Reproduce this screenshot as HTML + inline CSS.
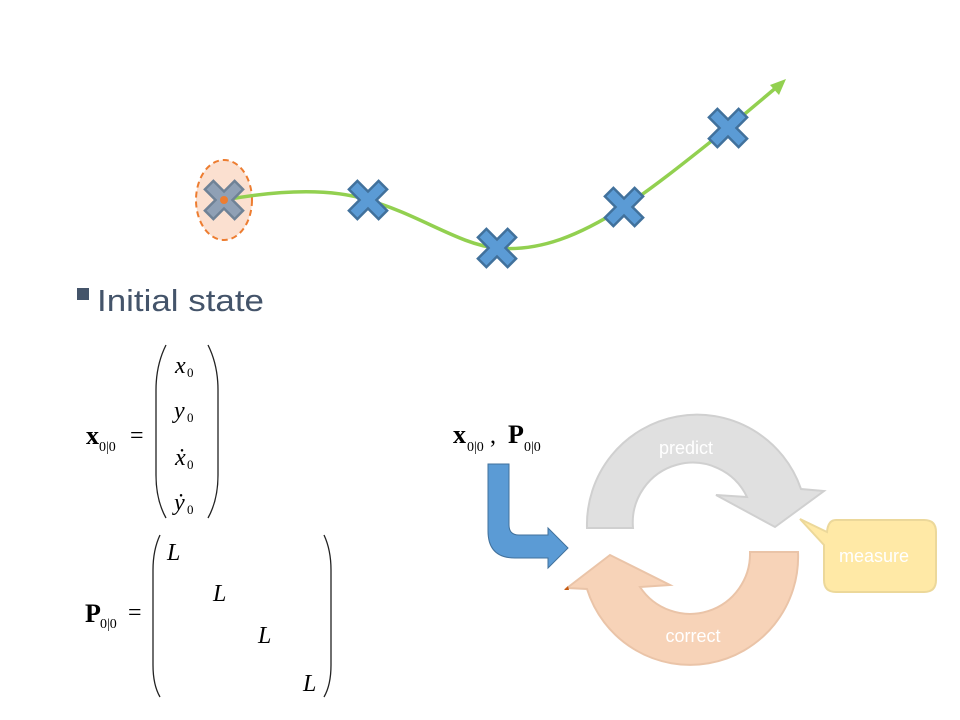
<!DOCTYPE html>
<html><head><meta charset="utf-8"><style>html,body{margin:0;padding:0;background:#fff}svg{display:block}</style></head>
<body>
<svg width="960" height="720" viewBox="0 0 960 720" xmlns="http://www.w3.org/2000/svg">
<defs>
<g id="cr"><path transform="rotate(45)" d="M-6,-21 L6,-21 L6,-6 L21,-6 L21,6 L6,6 L6,21 L-6,21 L-6,6 L-21,6 L-21,-6 L-6,-6 Z" stroke-width="2.5" stroke-linejoin="miter"/></g>
</defs>
<ellipse cx="224" cy="200" rx="28" ry="40" fill="#fbe0d0" stroke="#ed7d31" stroke-width="2" stroke-dasharray="6,4"/>
<path d="M224,200 C280,190 330,188 368,200 C420,215 460,245 497,248 C540,252 580,235 624,207 C660,183 700,150 728,128 L778,86" fill="none" stroke="#92d050" stroke-width="3.5"/>
<polygon points="786,79 770,85 779,95" fill="#92d050"/>
<use href="#cr" x="224" y="200" fill="#8fa0b5" stroke="#6f8296"/>
<circle cx="224" cy="200" r="4" fill="#ed7d31"/>
<use href="#cr" x="368" y="200" fill="#5b9bd5" stroke="#41719c"/>
<use href="#cr" x="497" y="248" fill="#5b9bd5" stroke="#41719c"/>
<use href="#cr" x="624" y="207" fill="#5b9bd5" stroke="#41719c"/>
<use href="#cr" x="728" y="128" fill="#5b9bd5" stroke="#41719c"/>
<rect x="77" y="288" width="12" height="12" fill="#44546a"/>
<text x="97" y="311" font-family="Liberation Sans, sans-serif" font-size="31" fill="#44546a" textLength="167" lengthAdjust="spacingAndGlyphs">Initial state</text>
<g font-family="Liberation Serif, serif" fill="#000">
<text x="86" y="444" font-size="26" font-weight="bold">x</text>
<text x="99" y="451" font-size="14">0|0</text>
<text x="130" y="443" font-size="24">=</text>
<path d="M166,345 Q156,365 156,390 L156,475 Q156,500 166,518" fill="none" stroke="#222" stroke-width="1.3"/>
<path d="M208,345 Q218,365 218,390 L218,475 Q218,500 208,518" fill="none" stroke="#222" stroke-width="1.3"/>
<text x="175" y="373" font-size="24" font-style="italic">x</text><text x="187" y="377" font-size="13">0</text>
<text x="174" y="418" font-size="24" font-style="italic">y</text><text x="187" y="422" font-size="13">0</text>
<text x="175" y="465" font-size="24" font-style="italic">ẋ</text><text x="187" y="469" font-size="13">0</text>
<text x="174" y="510" font-size="24" font-style="italic">ẏ</text><text x="187" y="514" font-size="13">0</text>
<text x="85" y="622" font-size="26" font-weight="bold">P</text>
<text x="100" y="628" font-size="14">0|0</text>
<text x="128" y="620" font-size="24">=</text>
<path d="M160,535 Q153,550 153,570 L153,665 Q153,685 160,697" fill="none" stroke="#222" stroke-width="1.3"/>
<path d="M324,535 Q331,550 331,570 L331,665 Q331,685 324,697" fill="none" stroke="#222" stroke-width="1.3"/>
<text x="167" y="560" font-size="24" font-style="italic">L</text>
<text x="213" y="601" font-size="24" font-style="italic">L</text>
<text x="258" y="643" font-size="24" font-style="italic">L</text>
<text x="303" y="691" font-size="24" font-style="italic">L</text>
<text x="453" y="443" font-size="26" font-weight="bold">x</text>
<text x="467" y="451" font-size="14">0|0</text>
<text x="490" y="443" font-size="24">,</text>
<text x="508" y="443" font-size="26" font-weight="bold">P</text>
<text x="524" y="451" font-size="14">0|0</text>
</g>
<path d="M488,464 L509,464 L509,525 Q509,535 519,535 L548,535 L548,528 L568,548 L548,568 L548,558 L515,558 Q488,558 488,531 Z" fill="#5b9bd5" stroke="#41719c" stroke-width="1"/>
<path d="M587,528 A110,110 0 0 1 801,489 L824,491 L775,527 L716,495 L747,497 A60,60 0 0 0 633,528 Z" fill="#e0e0e0" stroke="#d0d0d0" stroke-width="2"/>
<text x="686" y="454" font-family="Liberation Sans, sans-serif" font-size="18" fill="#fff" text-anchor="middle">predict</text>
<path d="M798,552 A108,108 0 0 1 587,589 L567,588 L610,555 L670,585 L640,587 A60,60 0 0 0 750,552 Z" fill="#f7d3b8" stroke="#eac4a8" stroke-width="2"/>
<text x="693" y="642" font-family="Liberation Sans, sans-serif" font-size="18" fill="#fff" text-anchor="middle">correct</text>
<polygon points="564,590 568,586 569,590" fill="#c55a11"/>
<path d="M836,520 L924,520 Q936,520 936,532 L936,580 Q936,592 924,592 L836,592 Q824,592 824,580 L824,545 L800,519 L827,532 Q828,520 836,520 Z" fill="#ffe9a6" stroke="#ecd89a" stroke-width="2"/>
<text x="874" y="562" font-family="Liberation Sans, sans-serif" font-size="18" fill="#fff" text-anchor="middle">measure</text>
</svg>
</body></html>
